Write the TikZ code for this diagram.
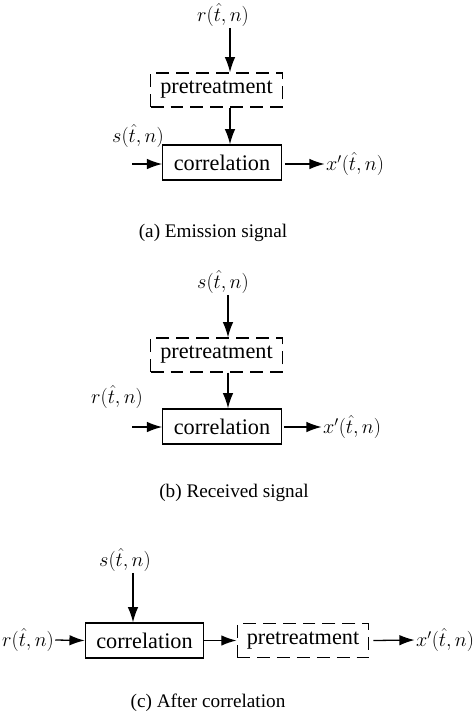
\documentclass[tikz,border=0pt]{standalone}
\usepackage{fontspec}
\setmainfont{Liberation Serif}
\usetikzlibrary{arrows.meta,positioning}

\begin{document}
\begin{tikzpicture}[>={Latex[length=13pt,width=9pt]},x=0.03cm,y=-0.03cm,
  corbox/.style={draw,line width=1.1pt,minimum width=3.55cm,minimum height=1.05cm,inner sep=0pt,font=\fontsize{19}{22}\selectfont},
  prebox/.style={draw,line width=1.1pt,dash pattern=on 11pt off 6pt,minimum width=3.95cm,minimum height=1.02cm,inner sep=0pt,font=\fontsize{19}{22}\selectfont},
  sig/.style={font=\fontsize{18}{21}\selectfont,inner sep=1pt},
  subcap/.style={font=\fontsize{16.4}{19}\selectfont},
  flow/.style={->,line width=1.1pt}]
\useasboundingbox (0,0) rectangle (474,717);

% (a) emission signal
\node[sig] (rA) at (223,15) {$r(\hat{t},n)$};
\node[prebox] (preA) at (216.5,90) {pretreatment};
\node[corbox] (corA) at (222,162.5) {correlation};
\node[sig] (sA) at (138,136) {$s(\hat{t},n)$};
\node[sig] (xA) at (355,164) {$x'(\hat{t},n)$};
\coordinate (vA) at (230,0);
\coordinate (inA) at (132,164);
\draw[flow] (rA.south -| vA) -- (preA.north -| vA);
\draw[flow] (preA.south -| vA) -- (corA.north -| vA);
\draw[flow] (inA) -- (inA -| corA.west);
\draw[flow] (xA.west -| corA.east) ++(3,0) coordinate (oA) -- (xA.west);
\node[subcap] (capA) at (213,233) {(a) Emission signal};

% (b) received signal
\node[sig] (sB) at (223,282) {$s(\hat{t},n)$};
\node[prebox] (preB) at (216.5,355) {pretreatment};
\node[corbox] (corB) at (222,426.5) {correlation};
\node[sig] (rB) at (117,397) {$r(\hat{t},n)$};
\node[sig] (xB) at (352,427) {$x'(\hat{t},n)$};
\coordinate (vB) at (228,0);
\coordinate (inB) at (132,427);
\draw[flow] (sB.south -| vB) -- (preB.north -| vB);
\draw[flow] (preB.south -| vB) -- (corB.north -| vB);
\draw[flow] (inB) -- (inB -| corB.west);
\draw[flow] (xB.west -| corB.east) ++(2,0) coordinate (oB) -- (xB.west);
\node[subcap] (capB) at (234,493) {(b) Received signal};

% (c) after correlation
\node[sig] (sC) at (125,560) {$s(\hat{t},n)$};
\node[corbox] (corC) at (144.5,640.5) {correlation};
\node[prebox] (preC) at (303,640.5) {pretreatment};
\node[sig] (rC) at (28,640) {$r(\hat{t},n)$};
\node[sig] (xC) at (445,640) {$x'(\hat{t},n)$};
\coordinate (vC) at (133,0);
\draw[flow] (sC.south -| vC) -- (corC.north -| vC);
\draw[flow] (rC.east) -- (corC.west);
\draw[flow] (corC.east) -- (preC.west);
\draw[flow] (preC.east) ++(4,0) coordinate (oC) -- (xC.west);
\node[subcap] (capC) at (208,703) {(c) After correlation};
\end{tikzpicture}
\end{document}
